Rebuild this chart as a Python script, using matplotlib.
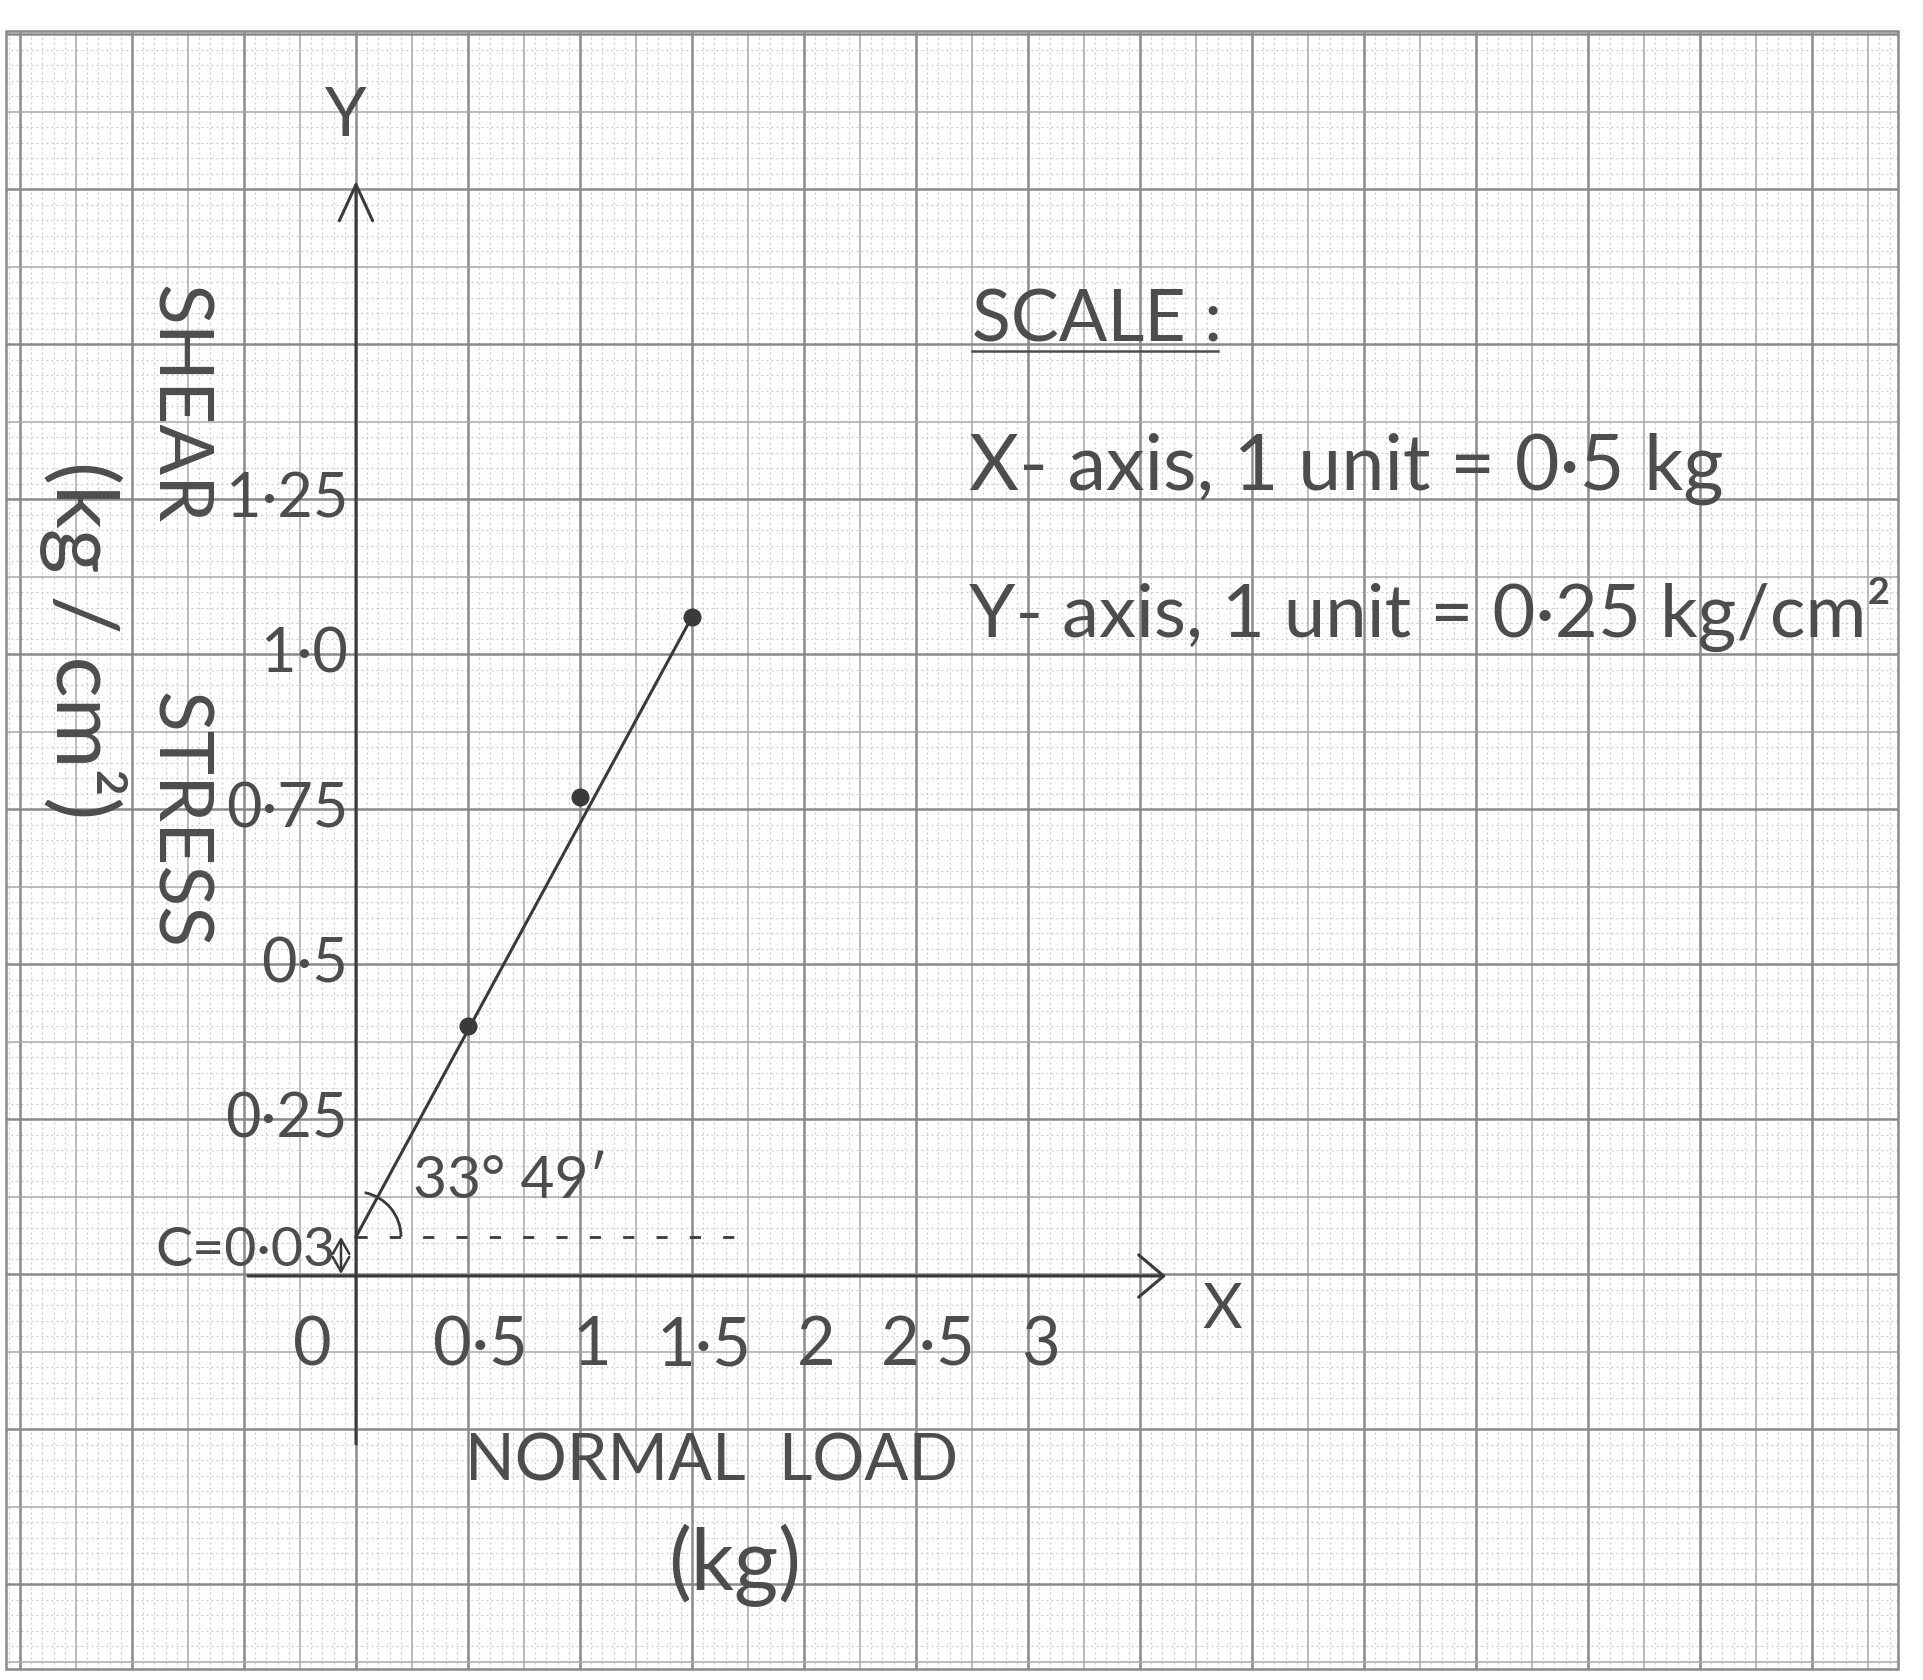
import matplotlib
matplotlib.use("Agg")
import matplotlib.pyplot as plt
from matplotlib import font_manager
from matplotlib.patches import Arc, Rectangle
import numpy as np

# values
normal_load = [0.5, 1.0, 1.5]          # kg
shear_stress = [0.40, 0.77, 1.06]      # kg/cm^2
cohesion = 0.06                        # height of the dashed c line as drawn
x_ticks = [0.5, 1.0, 1.5, 2.0, 2.5, 3.0]
x_tick_labels = ["0·5", "1", "1·5", "2", "2·5", "3"]
y_ticks = [0.25, 0.5, 0.75, 1.0, 1.25]
y_tick_labels = ["0·25", "0·5", "0·75", "1·0", "1·25"]
angle_label = "33° 49′"
c_label = "C=0·03"
scale_lines = ["SCALE :", "X- axis, 1 unit = 0·5 kg", "Y- axis, 1 unit = 0·25 kg/cm²"]

W, H = 1923, 1681
X0, Y0 = 356, 1275      # pixel position of the origin on the sheet
SX, SY = 224, 620       # pixels per kg, pixels per kg/cm^2

INK = "#3a3a3a"
TEXT_INK = "#4d4d4d"


def available(name):
    try:
        font_manager.findfont(font_manager.FontProperties(family=name), fallback_to_default=False)
        return True
    except ValueError:
        return False


HAND = [f for f in ["Lato", "Open Sans", "DejaVu Sans"] if available(f)] + ["DejaVu Sans"]
NARROW = [f for f in ["Liberation Sans Narrow"] if available(f)] + HAND


def px(x, y):
    # sheet pixel -> data coordinates (layout only)
    return (x - X0) / SX, (Y0 - y) / SY


fig = plt.figure(figsize=(W / 100, H / 100), dpi=100)
ax = fig.add_axes([0, 0, 1, 1])
xl, yt = px(6, 32)
xr, yb = px(1898, 1670)
ax.set_xlim(px(0, 0)[0], px(W, 0)[0])
ax.set_ylim(px(0, H)[1], px(0, 0)[1])
ax.axis("off")
renderer = fig.canvas.get_renderer()

# graph paper
for i in range(int(np.ceil(xl / 0.05)), int(np.floor(xr / 0.05)) + 1):
    x = i * 0.05
    if i % 10 == 0:
        ax.vlines(x, yb, yt, color="#8a8a8a", lw=1.8, zorder=1)
    elif i % 5 == 0:
        ax.vlines(x, yb, yt, color="#a8a8a8", lw=1.1, zorder=1)
    else:
        ax.vlines(x, yb, yt, color="#cacaca", lw=0.9, ls=(0, (1.5, 2.5)), zorder=0.5)
for j in range(int(np.ceil(yb / 0.025)), int(np.floor(yt / 0.025)) + 1):
    y = j * 0.025
    if j % 10 == 0:
        ax.hlines(y, xl, xr, color="#8a8a8a", lw=1.8, zorder=1)
    elif j % 5 == 0:
        ax.hlines(y, xl, xr, color="#a8a8a8", lw=1.1, zorder=1)
    else:
        ax.hlines(y, xl, xr, color="#cacaca", lw=0.9, ls=(0, (1.5, 2.5)), zorder=0.5)
ax.add_patch(Rectangle((xl, yb), xr - xl, yt - yb, fill=False, ec="#8a8a8a", lw=1.8, zorder=1))

# axes with arrow heads
ax.annotate("", xy=px(356, 182), xytext=px(356, 1445),
            arrowprops=dict(arrowstyle="->,head_length=0.65,head_width=0.3", lw=2.2,
                            color=INK, mutation_scale=40, shrinkA=0, shrinkB=0), zorder=3)
ax.annotate("", xy=px(1166, 1277), xytext=px(248, 1277),
            arrowprops=dict(arrowstyle="->,head_length=0.45,head_width=0.38", lw=2.2,
                            color=INK, mutation_scale=40, shrinkA=0, shrinkB=0), zorder=3)

# failure envelope and points
ax.plot([0, normal_load[-1]], [cohesion, shear_stress[-1]], color=INK, lw=2.2, zorder=3)
ax.plot(normal_load, shear_stress, "o", ms=12, color=INK, zorder=4)
ax.plot([0, 1.7], [cohesion, cohesion], color=INK, lw=2.0, ls=(0, (4, 8)), zorder=3)

# angle arc
slope_px = (shear_stress[-1] - cohesion) * SY / (normal_load[-1] * SX)
theta = np.degrees(np.arctan(slope_px))
ax.add_patch(Arc((0, cohesion), 2 * 45 / SX, 2 * 45 / SY, theta1=0, theta2=theta,
                 color=INK, lw=2.0, zorder=3))

# cohesion arrow
ax.annotate("", xy=(px(341, 0)[0], cohesion), xytext=(px(341, 0)[0], 0),
            arrowprops=dict(arrowstyle="<->,head_length=0.35,head_width=0.2", lw=1.8,
                            color=INK, mutation_scale=30, shrinkA=0, shrinkB=0), zorder=3)


def hand(x, y, s, size, fit=None, rot=0, fam=None, **kw):
    t = ax.text(x, y, s, fontsize=size, rotation=rot, color=TEXT_INK,
                family=fam or HAND, zorder=5, **kw)
    if fit:
        bb = t.get_window_extent(renderer=renderer)
        cur = bb.height if rot else bb.width
        t.set_fontsize(size * fit / cur)
    return t


# tick labels
for v, s in zip(y_ticks, y_tick_labels):
    hand(px(348, 0)[0], v, s, 44, fam=NARROW, ha="right", va="center")
for v, s in zip(x_ticks, x_tick_labels):
    hand(v + 12 / SX, px(0, 1346)[1], s, 48, fam=NARROW, ha="center", va="center")
hand(*px(312, 1346), "0", 48, fam=NARROW, ha="center", va="center")

# axis letters
hand(*px(346, 117), "Y", 48, ha="center", va="center")
hand(*px(1222, 1311), "X", 44, ha="center", va="center")

# axis titles
hand(*px(178, 405), "SHEAR", 54, rot=-90, ha="center", va="center")
hand(*px(178, 821), "STRESS", 54, rot=-90, ha="center", va="center")
hand(*px(84, 640), "(kg / cm²)", 62, rot=-90, ha="center", va="center")
hand(*px(712, 1462), "NORMAL  LOAD", 50, fit=494, ha="center", va="center")
hand(*px(735, 1565), "(kg)", 60, fit=133, ha="center", va="center")

# annotations
hand(*px(155, 1250), c_label, 40, fit=180, ha="left", va="center")
hand(*px(413, 1182), angle_label, 50, fit=195, ha="left", va="center")

# scale box
hand(*px(972, 342), scale_lines[0], 50, fit=250, ha="left", va="baseline")
t_y = hand(*px(969, 637), scale_lines[2], 50, fit=922, ha="left", va="baseline")
hand(*px(969, 490), scale_lines[1], t_y.get_fontsize() * 1.04, ha="left", va="baseline")
ax.plot([px(972, 0)[0], px(1218, 0)[0]], [px(0, 352)[1]] * 2, color=TEXT_INK, lw=1.8, zorder=5)

fig.savefig("out.png", dpi=100, facecolor="white")
